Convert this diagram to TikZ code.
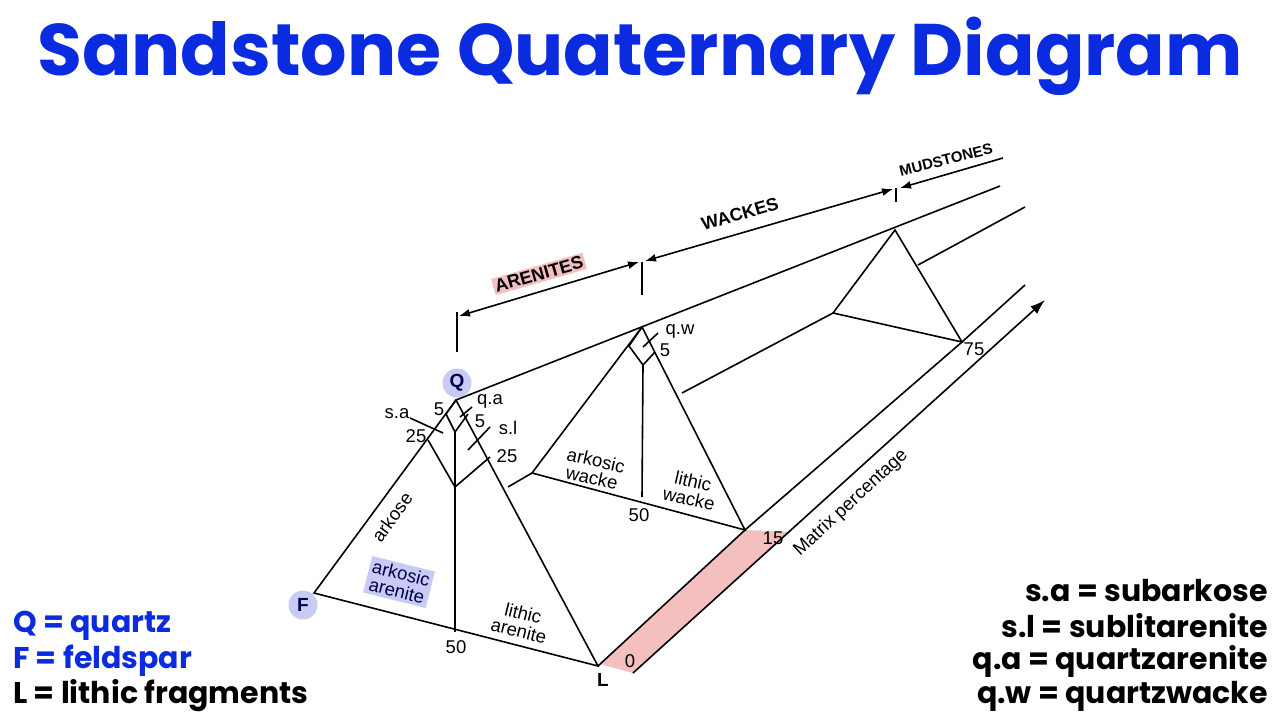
\documentclass[tikz,border=0pt]{standalone}
\usepackage{fontspec}
\setmainfont{Liberation Sans}
\newfontfamily\titlefont{Poppins}
\usetikzlibrary{arrows.meta}
\definecolor{ttl}{HTML}{0A2BE0}
\definecolor{circ}{HTML}{C8CBF3}
\definecolor{redb}{HTML}{F4BFBF}
\tikzset{ln/.style={line width=1.6pt,black},
lab/.style={font=\fontsize{18.5}{19}\selectfont,inner sep=1pt,align=center},
captxt/.style={font=\fontsize{18}{19}\selectfont\bfseries,inner sep=2pt},
dim/.style={ln,{Latex[length=11pt,width=8pt]}-{Latex[length=11pt,width=8pt]}},
leg/.style={font=\titlefont\fontsize{30}{31}\selectfont\bfseries,inner sep=0pt}}
\begin{document}
\begin{tikzpicture}[x=1pt,y=1pt]
\useasboundingbox (0,-720) rectangle (1280,0);
\node[font=\titlefont\fontsize{73}{75}\selectfont\bfseries,text=ttl] (title) at (640,-56) {Sandstone Quaternary Diagram};
% red band
\fill[redb] (600,-664) -- (745,-530) -- (790,-532) -- (633,-673) -- cycle;
% vertices
\coordinate (Q) at (456,-400); \coordinate (F) at (314,-593); \coordinate (L) at (598,-666);
\coordinate (Q2) at (642,-327); \coordinate (F2) at (532,-473); \coordinate (L2) at (745,-530);
\coordinate (Q3) at (895,-230); \coordinate (F3) at (833,-313); \coordinate (L3) at (962,-342);
\coordinate (Qend) at (1000,-186); \coordinate (Fend) at (1025,-207); \coordinate (Lend) at (1025,-285);
% triangle 1
\draw[ln] (Q) -- (F) -- (L) -- cycle;
\draw[ln] (Q) -- (Qend);
\draw[ln] (L) -- (L2) -- (L3) -- (Lend);
\draw[ln] (Q) -- (446,-414) -- (455,-432) -- (468,-414);
\draw[ln] (455,-432) -- (455,-632);
\draw[ln] (428,-440) -- (455,-487) -- (490,-457);
\draw[ln] (410,-418) -- (443,-433);
\draw[ln] (460,-417) -- (472,-407);
\draw[ln] (468,-450) -- (490,-427);
% triangle 2
\draw[ln] (508,-487) -- (F2);
\draw[ln] (Q2) -- (F2) -- (L2) -- cycle;
\draw[ln] (Q2) -- (629,-346) -- (643,-365) -- (655,-352);
\draw[ln] (643,-365) -- (642,-497);
\draw[ln] (643,-347) -- (658,-333);
\draw[ln] (682,-393) -- (F3);
% triangle 3
\draw[ln] (Q3) -- (F3) -- (L3) -- cycle;
\draw[ln] (918,-265) -- (Fend);
% matrix arrow
\draw[ln,-{Latex[length=15pt,width=10pt]}] (633,-673) -- (1045,-300);
% top dimension lines
\draw[ln] (457,-352) -- (457,-312);
\draw[ln] (642,-295) -- (642,-262);
\draw[ln] (896,-202) -- (896,-188);
\draw[dim] (459,-316) -- (639,-262);
\draw[dim] (645,-261) -- (893,-189);
\draw[ln,-{Latex[length=11pt,width=8pt]}] (1003,-158) -- (900,-188);
\node[captxt,fill=redb,rotate=16] (aren) at (539,-274) {ARENITES};
\node[captxt,rotate=16] (wack) at (740,-214) {WACKES};
\node[captxt,font=\fontsize{15}{16}\selectfont\bfseries,rotate=14] (mud) at (946,-160) {MUDSTONES};
% circles
\node[circle,fill=circ,minimum size=29pt,inner sep=0pt,font=\fontsize{19}{19}\selectfont\bfseries,text=blue!30!black] (qc) at (457,-383) {Q};
\node[circle,fill=circ,minimum size=29pt,inner sep=0pt,font=\fontsize{19}{19}\selectfont\bfseries,text=blue!30!black] (fc) at (303,-605) {F};
\node[font=\fontsize{19}{19}\selectfont\bfseries] (lc) at (603,-680) {L};
% labels
\node[lab] (n5a) at (439,-409) {5};
\node[lab] (n5b) at (480,-421) {5};
\node[lab] (sa) at (397,-414) {s.a};
\node[lab] (qa) at (490,-401) {q.a};
\node[lab] (sl) at (508,-428) {s.l};
\node[lab] (n25a) at (416,-436) {25};
\node[lab] (n25b) at (507,-456) {25};
\node[lab] (qw) at (680,-331) {q.w};
\node[lab] (n5c) at (665,-350) {5};
\node[lab] (n50a) at (456,-647) {50};
\node[lab] (n50b) at (639,-515) {50};
\node[lab] (n0) at (630,-661) {0};
\node[lab] (n15) at (773,-538) {15};
\node[lab] (n75) at (974,-349) {75};
\node[lab,rotate=54] (ark) at (392,-517) {arkose};
\node[lab,rotate=-14,fill=circ,inner sep=3pt,text=blue!30!black,font=\fontsize{18.5}{18}\selectfont] (aa) at (399,-582) {arkosic\\arenite};
\node[lab,rotate=-14,font=\fontsize{18.5}{18}\selectfont] (la) at (521,-622) {lithic\\arenite};
\node[lab,rotate=-13,font=\fontsize{18.5}{18}\selectfont] (aw) at (594,-469) {arkosic\\wacke};
\node[lab,rotate=-13,font=\fontsize{18.5}{18}\selectfont] (lw) at (691,-490) {lithic\\wacke};
\node[lab,rotate=43] (mp) at (851,-503) {Matrix percentage};
% legends
\node[leg,anchor=west,text=ttl] (l1) at (13,-626) {Q = quartz};
\node[leg,anchor=west,text=ttl] (l2) at (13,-661) {F = feldspar};
\node[leg,anchor=west] (l3) at (13,-696) {L = lithic fragments};
\node[leg,anchor=east] (r1) at (1268,-591) {s.a = subarkose};
\node[leg,anchor=east] (r2) at (1268,-626) {s.l = sublitarenite};
\node[leg,anchor=east] (r3) at (1268,-661) {q.a = quartzarenite};
\node[leg,anchor=east] (r4) at (1268,-696) {q.w = quartzwacke};
\end{tikzpicture}
\end{document}
